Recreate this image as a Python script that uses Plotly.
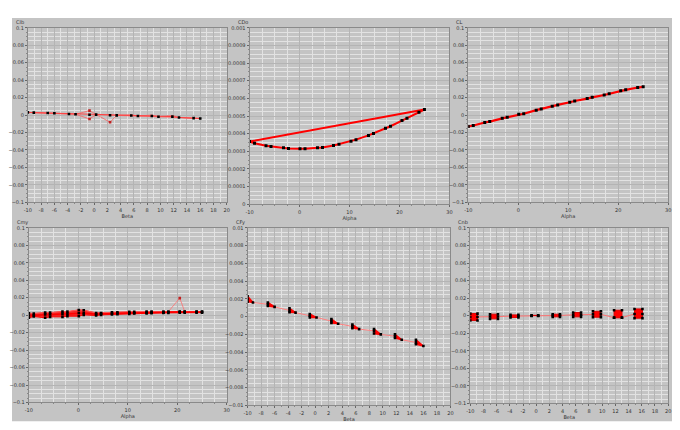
import plotly.graph_objects as go

# ---------------- data ----------------
# Panel 1: Clb vs Beta
beta1 = [-10, -9.1, -7, -6, -3.8, -2.8, -0.7, 0.3, 2.4, 3.4, 5.6, 6.6, 8.7, 9.7, 11.8, 12.8, 15, 16]
clb_main = [0.003, 0.0028, 0.0024, 0.002, 0.0012, 0.0009, 0.0003, 0.0005, -0.0002, -0.0004,
            -0.0006, -0.0012, -0.0012, -0.002, -0.0018, -0.0028, -0.0036, -0.004]
clb_b = [0.003, 0.0028, 0.0024, 0.002, 0.0012, 0.0009, 0.005, 0.0005, -0.0083, -0.0004,
         0.0003, -0.0012, 0.0, -0.002, -0.0005, -0.0028, -0.0036, -0.004]
clb_c = [0.003, 0.0028, 0.0024, 0.002, 0.0012, 0.0009, -0.0045, 0.0005, -0.0002, -0.0004,
         -0.0012, -0.0012, -0.0022, -0.002, -0.0028, -0.0028, -0.0036, -0.004]

# Panels 2-4: vs Alpha
alpha = [-10, -9, -6.7, -5.7, -3.2, -2.2, 0.1, 1.1, 3.6, 4.6, 6.8, 7.9, 10.3, 11.3, 13.8,
         14.8, 17.2, 18.2, 20.5, 21.5, 23.9, 25]
cdo = [0.000355, 0.000346, 0.000331, 0.000327, 0.00032, 0.000316, 0.000314, 0.000314,
       0.00032, 0.000322, 0.000333, 0.00034, 0.000357, 0.000366, 0.00039, 0.000401,
       0.000431, 0.000442, 0.000474, 0.000487, 0.000522, 0.000537]
cl = [-0.0131, -0.012, -0.0086, -0.0075, -0.0038, -0.0026, 0.0008, 0.0015, 0.0056, 0.0068,
      0.0101, 0.0116, 0.0146, 0.0161, 0.0188, 0.0203, 0.0229, 0.0244, 0.0278, 0.0289,
      0.0315, 0.0323]
cmy_mid = [-0.0004, 0.0, 0.0008, 0.0008, 0.0015, 0.0015, 0.0026, 0.0026, 0.0011, 0.0015,
           0.0019, 0.0023, 0.0026, 0.0026, 0.003, 0.003, 0.003, 0.0034, 0.0038, 0.0038,
           0.0038, 0.0038]
cmy_hi = [0.0023, 0.0019, 0.003, 0.003, 0.0041, 0.0041, 0.006, 0.0057, 0.0026, 0.0026,
          0.0034, 0.0034, 0.0038, 0.0038, 0.0041, 0.0041, 0.0041, 0.0041, 0.0041, 0.0041,
          0.0041, 0.0041]
cmy_lo = [-0.003, -0.0015, -0.003, -0.0019, -0.0019, -0.0011, -0.0011, 0.0004, -0.0004, 0.0004,
          0.0008, 0.0011, 0.0015, 0.0019, 0.0019, 0.0023, 0.0026, 0.0026, 0.003, 0.003,
          0.003, 0.003]
cmy_alt = [0.0023, 0.0019, 0.003, 0.003, 0.0041, 0.0041, 0.006, 0.0057, 0.0026, 0.0026,
           0.0034, 0.0034, 0.0038, 0.0038, 0.0041, 0.0041, 0.0041, 0.0041, 0.0196, 0.0041,
           0.0041, 0.0041]

# Panel 5: CFy vs Beta (clusters)
beta5_a = [-10, -7, -3.8, -0.8, 2.4, 5.5, 8.7, 11.8, 14.9]
beta5_b = [-9.2, -6, -2.9, 0.2, 3.4, 6.5, 9.7, 12.8, 16]
cfy_hi = [0.0023, 0.0016, 0.00094, 0.0003, -0.00028, -0.0009, -0.0014, -0.002, -0.0026]
cfy_mid = [0.002, 0.0014, 0.0007, 0.0001, -0.0005, -0.0011, -0.0016, -0.0022, -0.0029]
cfy_lo = [0.0017, 0.0012, 0.0005, -0.0001, -0.0007, -0.0013, -0.0019, -0.0024, -0.0031]
cfy_b = [0.0016, 0.0011, 0.00046, -0.0001, -0.0008, -0.0014, -0.002, -0.0026, -0.0033]

# Panel 6: Cnb vs Beta (clusters)
beta6_a = [-10, -7, -3.9, -0.7, 2.5, 5.6, 8.6, 11.8, 14.9]
beta6_b = [-8.9, -5.8, -2.7, 0.3, 3.6, 6.8, 9.8, 13, 16.1]
cnb_hi = [0.0024, 0.0017, 0.0009, 0.0003, 0.0017, 0.0036, 0.005, 0.0062, 0.0077]
cnb_lo = [-0.0054, -0.0036, -0.002, -0.0003, -0.0013, -0.0013, -0.0017, -0.0024, -0.0028]
cnb_mid = [-0.0015, -0.001, -0.0005, 0.0, 0.0002, 0.001, 0.0015, -0.0022, 0.002]

# ticks and labels
beta_ticks = [-10, -8, -6, -4, -2, 0, 2, 4, 6, 8, 10, 12, 14, 16, 18, 20]
alpha_ticks = [-10, 0, 10, 20, 30]
c_ticks = [-0.1, -0.08, -0.06, -0.04, -0.02, 0, 0.02, 0.04, 0.06, 0.08, 0.1]
cdo_ticks = [0, 0.0001, 0.0002, 0.0003, 0.0004, 0.0005, 0.0006, 0.0007, 0.0008, 0.0009, 0.001]
cfy_ticks = [-0.01, -0.008, -0.006, -0.004, -0.002, 0, 0.002, 0.004, 0.006, 0.008, 0.01]
titles = ["Clb", "CDo", "CL", "Cmy", "CFy", "Cnb"]
xtitles = ["Beta", "Alpha", "Alpha", "Alpha", "Beta", "Beta"]

# ---------------- layout helpers ----------------
W, H = 680, 430
# plot-area boxes in pixels (x0, y0, x1, y1)
boxes = [(16, 17, 217, 194), (240, 17, 442, 196), (461, 17, 663, 194),
         (17, 220, 217, 397), (238, 220, 443, 400), (463, 220, 663, 398)]
RED = "#ff0000"
fig = go.Figure()


def ax_names(i):
    return ("x" if i == 0 else f"x{i+1}"), ("y" if i == 0 else f"y{i+1}")


def add(i, **kw):
    xa, ya = ax_names(i)
    fig.add_trace(go.Scatter(xaxis=xa, yaxis=ya, showlegend=False, hoverinfo="skip", **kw))


MK = dict(color="black", size=2.6, symbol="square")

# Panel 1
add(0, x=beta1, y=clb_b, mode="lines", line=dict(color="#ff6060", width=0.8))
add(0, x=beta1, y=clb_c, mode="lines", line=dict(color="#ff6060", width=0.8))
add(0, x=beta1, y=clb_main, mode="lines+markers", line=dict(color="#ff4040", width=1),
    marker=MK)
add(0, x=[beta1[6], beta1[6], beta1[8]], y=[clb_b[6], clb_c[6], clb_b[8]], mode="markers",
    marker=dict(color="#c02020", size=2.6, symbol="square"))

# Panel 2 (closed loop)
add(1, x=alpha + [alpha[0]], y=cdo + [cdo[0]], mode="lines", line=dict(color=RED, width=2))
add(1, x=alpha, y=cdo, mode="markers", marker=dict(color="black", size=3, symbol="square"))

# Panel 3
add(2, x=alpha, y=cl, mode="lines", line=dict(color=RED, width=2.2))
add(2, x=alpha, y=cl, mode="markers", marker=dict(color="black", size=3, symbol="square"))

# Panel 4
add(3, x=alpha, y=cmy_lo, mode="lines", line=dict(color=RED, width=1))
add(3, x=alpha, y=cmy_hi, mode="lines", line=dict(color=RED, width=1), fill="tonexty",
    fillcolor="rgba(255,0,0,0.8)")
add(3, x=alpha, y=cmy_alt, mode="lines", line=dict(color="#ff7070", width=0.8))
add(3, x=[alpha[18]], y=[cmy_alt[18]], mode="markers", marker=dict(color="#c02020", size=2.6, symbol="square"))
add(3, x=alpha, y=cmy_mid, mode="lines", line=dict(color=RED, width=1.5))
add(3, x=alpha * 3, y=cmy_hi + cmy_mid + cmy_lo, mode="markers", marker=MK)

# Panel 5
line_x, line_y = [], []
for a, b, m, yb in zip(beta5_a, beta5_b, cfy_mid, cfy_b):
    line_x += [a, b]
    line_y += [m, yb]
add(4, x=line_x, y=line_y, mode="lines", line=dict(color="#ff8080", width=1))
for a, b, hi, lo, yb in zip(beta5_a, beta5_b, cfy_hi, cfy_lo, cfy_b):
    add(4, x=[a, b, a, a], y=[hi, yb, lo, hi], mode="lines", fill="toself",
        fillcolor=RED, line=dict(color=RED, width=1.5))
add(4, x=beta5_a * 3 + beta5_b, y=cfy_hi + cfy_mid + cfy_lo + cfy_b, mode="markers", marker=MK)

# Panel 6
line_x, line_y = [], []
for a, b, m in zip(beta6_a, beta6_b, cnb_mid):
    line_x += [a, b]
    line_y += [m, m]
add(5, x=line_x, y=line_y, mode="lines", line=dict(color="#ff7070", width=1))
for a, b, hi, lo in zip(beta6_a, beta6_b, cnb_hi, cnb_lo):
    add(5, x=[a, b, b, a, a], y=[hi, hi, lo, lo, hi], mode="lines", fill="toself",
        fillcolor=RED, line=dict(color="#dd0000", width=1))
add(5, x=beta6_a * 3 + beta6_b * 3, y=cnb_hi + cnb_mid + cnb_lo + cnb_hi + cnb_mid + cnb_lo,
    mode="markers", marker=MK)

# axes
specs = [
    (beta_ticks, 1, c_ticks, 0.005, ".2~f"),
    (alpha_ticks, 2.5, cdo_ticks, 0.000025, ".4~f"),
    (alpha_ticks, 2.5, c_ticks, 0.005, ".2~f"),
    (alpha_ticks, 2.5, c_ticks, 0.005, ".2~f"),
    (beta_ticks, 1, cfy_ticks, 0.0005, ".3~f"),
    (beta_ticks, 1, c_ticks, 0.005, ".2~f"),
]
layout = dict(width=W, height=H, margin=dict(l=0, r=0, t=0, b=0),
              paper_bgcolor="white", plot_bgcolor="white", showlegend=False,
              font=dict(family="DejaVu Sans", size=5, color="#333333"))
annotations = []
tfont = dict(family="DejaVu Sans", size=5, color="#333333")
for i, ((x0, y0, x1, y1), (xt, xminor, yt, yminor, yfmt)) in enumerate(zip(boxes, specs)):
    xkey = "xaxis" if i == 0 else f"xaxis{i+1}"
    ykey = "yaxis" if i == 0 else f"yaxis{i+1}"
    xa, ya = ax_names(i)
    common = dict(showgrid=True, gridcolor="#b4b4b4", gridwidth=1, zeroline=False,
                  showline=True, linecolor="#8a8a8a", mirror=True, ticks="outside",
                  ticklen=2, tickcolor="#666666", tickfont=tfont, fixedrange=True)
    layout[xkey] = dict(common, domain=[x0 / W, x1 / W], anchor=ya,
                        range=[xt[0], xt[-1]], tickvals=xt, ticktext=[str(v) for v in xt],
                        ticklabelstandoff=1,
                        minor=dict(dtick=xminor, showgrid=True, gridcolor="#e2e2e2",
                                   ticks="outside", ticklen=1, tickcolor="#888888"),
                        title=dict(text=xtitles[i], font=tfont, standoff=1))
    layout[ykey] = dict(common, domain=[1 - y1 / H, 1 - y0 / H], anchor=xa,
                        range=[yt[0], yt[-1]], tickvals=yt, tickformat=yfmt,
                        minor=dict(dtick=yminor, showgrid=True, gridcolor="#e2e2e2",
                                   ticks="outside", ticklen=1, tickcolor="#888888"))
    annotations.append(dict(text=titles[i], xref="paper", yref="paper",
                            x=(x0 - 14) / W, y=1 - (y0 - 11) / H, xanchor="left", yanchor="top",
                            showarrow=False, font=dict(family="DejaVu Sans", size=5, color="#333333")))
layout["annotations"] = annotations
layout["shapes"] = [dict(type="rect", xref="paper", yref="paper", x0=0, x1=667 / W,
                         y0=1 - 416 / H, y1=1 - 7 / H, fillcolor="#c4c4c4",
                         line=dict(width=0), layer="below")]
fig.update_layout(**layout)
fig.write_html("out.html")
